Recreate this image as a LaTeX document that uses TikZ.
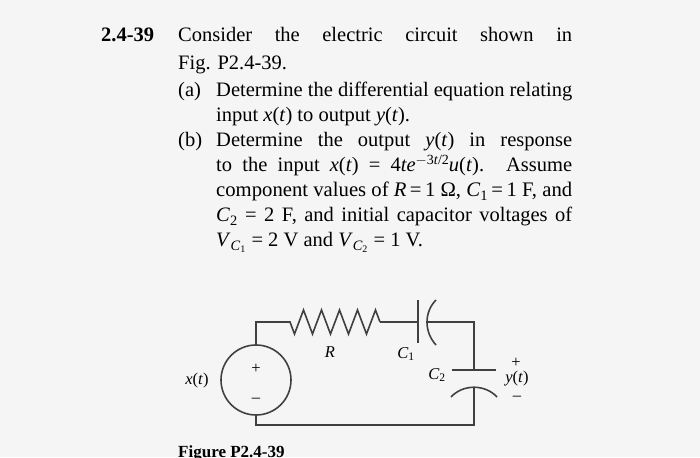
\documentclass[tikz,border=0pt]{standalone}
\usepackage{fontspec}
\setmainfont{Liberation Serif}
\newcommand{\iv}[1]{\textit{#1}}
\begin{document}
\begin{tikzpicture}[x=1pt,y=1pt,
  txt/.style={anchor=base west,inner sep=0pt,font=\fontsize{20.5}{23}\selectfont},
  wire/.style={line width=1.6pt,color=black!75},
  lbl/.style={inner sep=0pt,font=\fontsize{16.5}{18}\selectfont}]
\fill[black!4] (0,0) rectangle (700,457);
\useasboundingbox (0,0) rectangle (700,457);
\node[txt] (n0) at (101,415) {\textbf{2.4-39}};
\node[txt] (l1) at (178,415) {\makebox[394pt][s]{Consider the electric circuit shown in}};
\node[txt] (l2) at (178,387) {Fig. P2.4-39.};
\node[txt] (a) at (178,360) {(a)};
\node[txt] (l3) at (216,360) {\resizebox{356pt}{!}{Determine the differential equation relating}};
\node[txt] (l4) at (216,335) {input \iv{x}(\iv{t}) to output \iv{y}(\iv{t}).};
\node[txt] (b) at (178,310) {(b)};
\node[txt] (l5) at (216,310) {\makebox[356pt][s]{Determine the output \iv{y}(\iv{t}) in response}};
\node[txt] (l6) at (216,285) {\makebox[356pt][s]{to the input \iv{x}(\iv{t}) = 4\iv{te}{\fontsize{14}{14}\selectfont\raisebox{7pt}{$-$3\iv{t}/2}}\iv{u}(\iv{t}). Assume}};
\node[txt] (l7) at (216,260) {\resizebox{356pt}{!}{component values of \iv{R}\,=\,1 Ω, \iv{C}\textsubscript{1}\,=\,1 F, and}};
\node[txt] (l8) at (216,235) {\makebox[356pt][s]{\iv{C}\textsubscript{2} = 2 F, and initial capacitor voltages of}};
\node[txt] (l9) at (216,210) {\iv{V}\textsubscript{\iv{C}\textsubscript{1}} = 2 V and \iv{V}\textsubscript{\iv{C}\textsubscript{2}} = 1 V.};
% circuit
\node[circle,draw,wire,minimum size=70pt,inner sep=0pt] (src) at (256,77) {};
\node[lbl] (sp) at (256,88) {+};
\node[lbl] (sm) at (256,57) {--};
\coordinate (tl) at (256,135);
\coordinate (r1) at (290,135);
\coordinate (r2) at (380,135);
\coordinate (c1a) at (418,135);
\coordinate (c1b) at (428,135);
\coordinate (tr) at (474,135);
\coordinate (c2a) at (474,87);
\coordinate (c2b) at (474,69);
\coordinate (br) at (474,32);
\coordinate (bl) at (256,32);
\draw[wire] (src.north) -- (tl) -- (r1)
  -- ++(4.5,-12) -- ++(9,24) -- ++(9,-24) -- ++(9,24) -- ++(9,-24) -- ++(9,24) -- ++(9,-24) -- ++(9,24) -- ++(9,-24) -- ++(9,24) -- ++(4.5,-12) -- (r2);
\draw[wire] (r2) -- (c1a);
\draw[wire] (418,114) -- (418,157);
\draw[wire] (436,157) .. controls (424,145) and (424,125) .. (436,112);
\draw[wire] (c1b) -- (tr) -- (c2a);
\draw[wire] (452,87) -- (496,87);
\draw[wire] (451,60) .. controls (463,73) and (485,73) .. (497,60);
\draw[wire] (c2b) -- (br) -- (bl) -- (src.south);
\node[lbl] (R) at (330,105) {\iv{R}};
\node[lbl] (C1) at (406,103) {\iv{C}\textsubscript{1}};
\node[lbl] (C2) at (437,82) {\iv{C}\textsubscript{2}};
\node[lbl] (x) at (197,76) {\iv{x}(\iv{t})};
\node[lbl] (y) at (517,78) {\iv{y}(\iv{t})};
\node[lbl] (yp) at (516,94) {+};
\node[lbl] (ym) at (517,59) {--};
\node[txt,font=\bfseries\fontsize{17}{19}\selectfont] (fig) at (178,0) {Figure P2.4-39};
\end{tikzpicture}
\end{document}
